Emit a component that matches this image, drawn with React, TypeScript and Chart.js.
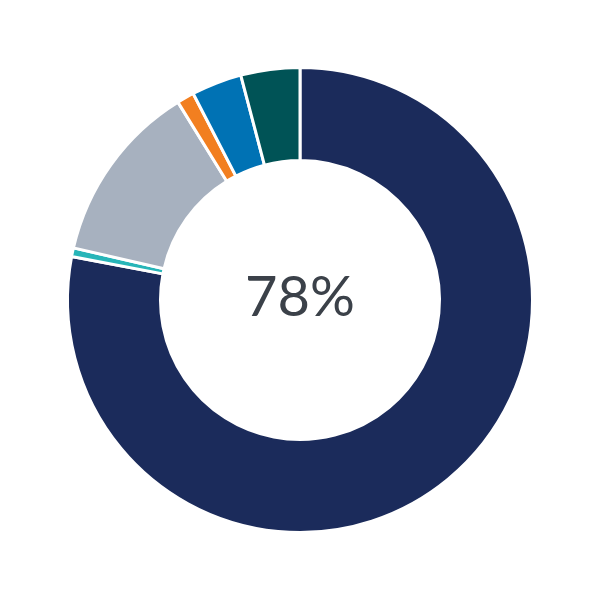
import React, { useEffect, useRef } from "react";
import { Chart, registerables } from "chart.js";

Chart.register(...registerables);

const categories = ["A", "B", "C", "D", "E", "F"];
const values = [78.0, 0.6, 12.6, 1.2, 3.5, 4.1];
const colors = ["#1b2b5b", "#27b5b8", "#a7b1bf", "#f27f20", "#0072b4", "#005356"];
const centerLabel = "78%";

export default function App() {
  const ref = useRef<HTMLCanvasElement | null>(null);
  useEffect(() => {
    document.body.style.margin = "0";
    const centerText = {
      id: "centerText",
      afterDraw(chart: any) {
        const { ctx, chartArea } = chart;
        const cx = (chartArea.left + chartArea.right) / 2;
        const cy = (chartArea.top + chartArea.bottom) / 2;
        ctx.save();
        ctx.font = "400 56px Lato";
        ctx.fillStyle = "#3b4149";
        ctx.textAlign = "center";
        ctx.textBaseline = "middle";
        ctx.fillText(centerLabel, cx, cy - 2);
        ctx.restore();
      },
    };
    const chart = new Chart(ref.current!, {
      type: "doughnut",
      data: {
        labels: categories,
        datasets: [
          {
            data: values,
            backgroundColor: colors,
            borderColor: "#ffffff",
            borderWidth: 3,
          },
        ],
      },
      options: {
        animation: false,
        responsive: false,
        cutout: "60%",
        layout: { padding: 66 },
        plugins: { legend: { display: false }, tooltip: { enabled: false } },
      },
      plugins: [centerText],
    });
    return () => chart.destroy();
  }, []);
  return (
    <div style={{ width: 600, height: 600 }}>
      <canvas ref={ref} width={600} height={600} style={{ width: 600, height: 600 }} />
    </div>
  );
}
